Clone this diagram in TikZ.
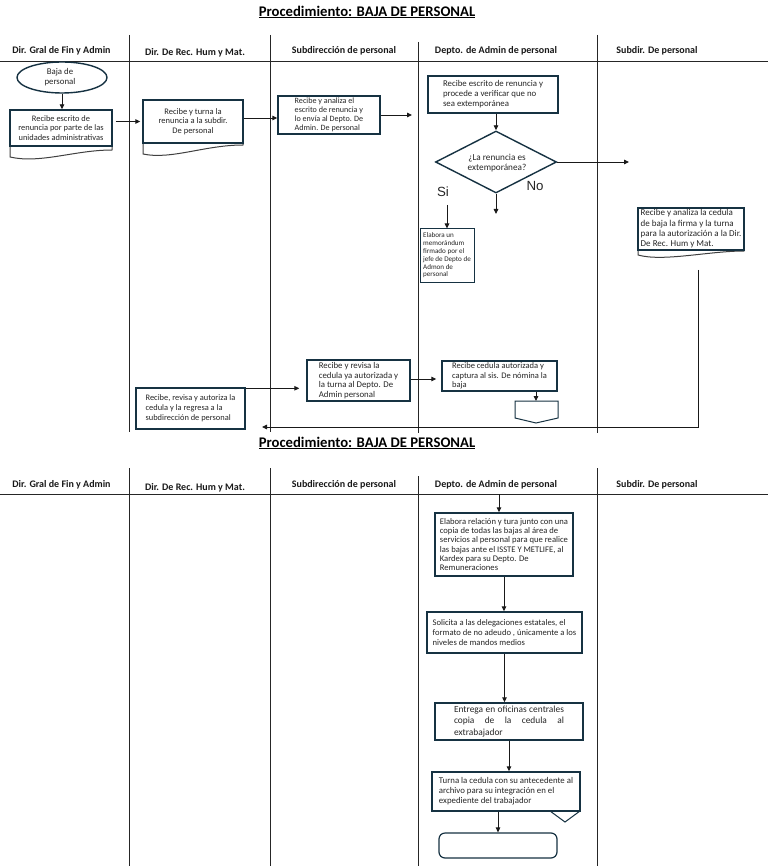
\documentclass[tikz,border=0pt]{standalone}
\usepackage{fontspec}
\setmainfont{Carlito}
\newfontfamily\arialf{Liberation Sans}
\usetikzlibrary{arrows.meta,shapes.geometric,calc}
\definecolor{navy}{RGB}{22,50,66}
\definecolor{txt}{RGB}{38,38,38}
\newcommand\fsz[2]{\fontsize{#1}{#2}\selectfont}
\begin{document}
\begin{tikzpicture}[x=1pt,y=-1pt,
  lane/.style={draw=black!85,line width=0.9pt},
  hdr/.style={font=\fsz{10}{12}\bfseries,text=black!90,inner sep=0pt},
  ttl/.style={font=\fsz{14.7}{16}\bfseries,text=black,inner sep=0pt},
  box/.style={draw=navy,line width=1.4pt,fill=white,text=txt,inner sep=0pt,align=left},
  wave/.style={draw=black!75,line width=1pt},
  offp/.style={draw=navy,line width=1pt,fill=white},
  arr/.style={-{Triangle[length=5pt,width=4.5pt]},line width=0.9pt,draw=black!90},
  lbl/.style={font=\arialf\fsz{13.3}{14},text=black!85,inner sep=0pt}
]
\useasboundingbox[fill=white] (0,0) rectangle (768,866);

% ================= page 1 =================
\node[ttl] (t1) at (367,12) {\underline{Procedimiento: BAJA DE PERSONAL}};
\draw[lane] (0,61) -- (768,61);
\draw[lane] (129,35) -- (129,432);
\draw[lane] (270,35) -- (270,432);
\draw[lane] (418,42) -- (418,433);
\draw[lane] (597,35) -- (597,433);
\node[hdr] (h11) at (61.5,51) {Dir. Gral de Fin y Admin};
\node[hdr] (h12) at (195,53) {Dir. De Rec. Hum y Mat.};
\node[hdr] (h13) at (344,51) {Subdirección de personal};
\node[hdr] (h14) at (496,51) {Depto. de Admin de personal};
\node[hdr] (h15) at (657,51) {Subdir. De personal};

% start ellipse
\node[ellipse,draw=navy,line width=1.4pt,fill=white,minimum width=90pt,minimum height=31pt,inner sep=0pt] (e1) at (62,77.5) {};
\node[font=\fsz{8.8}{10},text=txt,align=center,inner sep=0pt] (e1t) at (60,77) {Baja de\\personal};

% document 1
\draw[wave,fill=white] (10,146) -- (10,157) .. controls (40,164) and (75,150) .. (112,150) -- (112,146);
\node[box,minimum width=102pt,minimum height=36pt,font=\fsz{8.4}{9.5},align=center] (d1) at (61,128) {Recibe escrito de\\renuncia por parte de las\\unidades administrativas};

% document 2
\draw[wave,fill=white] (143,143) -- (143,154) .. controls (171,160) and (205,145) .. (243,145) -- (243,143);
\node[box,minimum width=100pt,minimum height=43pt,font=\fsz{8.5}{9.5},align=center] (d2) at (193,121.5) {Recibe y turna la\\renuncia a la subdir.\\De personal};

\node[box,minimum width=102pt,minimum height=38pt,font=\fsz{8.1}{9.2}] (b4) at (329,115) {Recibe y analiza el\\escrito de renuncia y\\lo envía al Depto. De\\Admin. De personal};

\node[box,minimum width=130pt,minimum height=37pt,font=\fsz{8.8}{10}] (b5) at (493,94.5) {Recibe escrito de renuncia y\\procede a verificar que no\\sea extemporánea};

\node[diamond,draw=navy,line width=1.4pt,fill=white,minimum width=121pt,minimum height=62pt,inner sep=0pt] (dm) at (496,162) {};
\node[font=\fsz{9.2}{10},text=txt,align=center,inner sep=0pt] (dmt) at (497,163) {¿La renuncia es\\extemporánea?};

\node[lbl] (no) at (535,186) {No};
\node[lbl] (si) at (443,192) {Si};

\node[box,line width=1pt,minimum width=54pt,minimum height=53pt,font=\fsz{7.1}{7.8}] (b7) at (447,255.5) {Elabora un\\memorándum\\firmado por el\\jefe de Depto de\\Admon de\\personal};

% document 8
\draw[wave,fill=white] (638,250) -- (638,255) .. controls (663,262) and (709,251) .. (744,251) -- (744,250);
\node[box,minimum width=106pt,minimum height=42pt,font=\fsz{9}{10.3}] (d8) at (691,229) {Recibe y analiza la cedula\\de baja la firma y la turna\\para la autorización a la Dir.\\De Rec. Hum y Mat.};

\node[box,minimum width=109pt,minimum height=41pt,font=\fsz{8.4}{10}] (b9) at (190.5,408.5) {Recibe, revisa y autoriza la\\cedula y la regresa a la\\subdirección de personal};

\node[box,minimum width=103pt,minimum height=41pt,font=\fsz{8.8}{9.6}] (b10) at (358.5,380.5) {Recibe y revisa la\\cedula ya autorizada y\\la turna al Depto. De\\Admin personal};

\node[box,minimum width=115pt,minimum height=30pt,font=\fsz{8.5}{9.3}] (b11) at (499.5,376) {Recibe cedula autorizada y\\captura al sis. De nómina la\\baja};

\coordinate (p12) at (536,401);
\draw[offp] (p12) ++(-21,0) -- ++(43,0) -- ++(0,17) -- ++(-22,5) -- ++(-21,-5) -- cycle;

% connectors page 1
\draw[arr] (e1.south) -- (e1.south |- d1.north);
\draw[arr] ([xshift=3pt]d1.east |- d2.west) -- ([xshift=-2pt]d2.west);
\draw[arr] ([yshift=3.5pt]d2.east) -- ([yshift=3.5pt]d2.east -| b4.west);
\coordinate (c1) at (412,115);
\draw[arr] (b4.east) -- (c1);
\draw[arr] (dm.north |- b5.south) -- (dm.north);
\coordinate (c2) at (629,162);
\draw[arr] (dm.east) -- (c2);
\coordinate (c3) at (496,214);
\draw[arr] (dm.south) -- (c3);
\coordinate (c4) at (447,205);
\draw[arr] (c4) -- (c4 |- b7.north);
\coordinate (c5) at (698,270);
\coordinate (c6) at (262,427);
\draw[arr] (c5) |- (c6);
\draw[arr] ([yshift=-1pt]b9.north east) -- ([xshift=-7pt,yshift=-1pt]b9.north east -| b10.west);
\draw[arr] ([yshift=1.5pt]b10.east) -- ([xshift=-5pt,yshift=1.5pt]b10.east -| b11.west);
\draw[arr] (p12 |- b11.south) -- (p12);

% ================= page 2 =================
\node[ttl] (t2) at (367,443) {\underline{Procedimiento: BAJA DE PERSONAL}};
\draw[lane] (0,494) -- (768,494);
\draw[lane] (129,468) -- (129,866);
\draw[lane] (270,468) -- (270,866);
\draw[lane] (418,476) -- (418,866);
\draw[lane] (597,468) -- (597,866);
\node[hdr] (h21) at (61.5,485) {Dir. Gral de Fin y Admin};
\node[hdr] (h22) at (195,488) {Dir. De Rec. Hum y Mat.};
\node[hdr] (h23) at (344,485) {Subdirección de personal};
\node[hdr] (h24) at (496,485) {Depto. de Admin de personal};
\node[hdr] (h25) at (657,485) {Subdir. De personal};

\node[box,minimum width=138pt,minimum height=63pt,font=\fsz{8.6}{9.2}] (bA) at (504,544.5) {Elabora relación y tura junto con una\\copia de todas las bajas al área de\\servicios al personal para que realice\\las bajas ante el ISSTE Y METLIFE, al\\Kardex para su Depto. De\\Remuneraciones};

\node[box,minimum width=155pt,minimum height=41pt,font=\fsz{8.6}{9.7}] (bB) at (504.5,632.5) {Solicita a las delegaciones estatales, el\\formato de no adeudo , únicamente a los\\niveles de mandos medios};

\node[box,minimum width=148pt,minimum height=37pt,font=\fsz{9.4}{11.3},align=justify,text width=110pt] (bC) at (509,721.5) {Entrega en oficinas centrales\linebreak copia de la cedula al\linebreak extrabajador};

\draw[offp] (550,811) -- (565,822) -- (580,811);
\node[box,minimum width=148pt,minimum height=39pt,font=\fsz{8.8}{10}] (bD) at (506,791.5) {Turna la cedula con su antecedente al\\archivo para su integración en el\\expediente del trabajador};

\node[box,line width=1.2pt,rounded corners=6pt,minimum width=118pt,minimum height=25pt] (bE) at (498,845.5) {};

% connectors page 2
\coordinate (c8) at (499,494);
\draw[arr] (c8) -- (c8 |- bA.north);
\draw[arr] (bA.south) -- (bA.south |- bB.north);
\draw[arr] (bB.south) -- (bB.south |- bC.north);
\draw[arr] (bC.south) -- (bC.south |- bD.north);
\draw[arr] (bE.north |- bD.south) -- (bE.north);
\end{tikzpicture}
\end{document}
